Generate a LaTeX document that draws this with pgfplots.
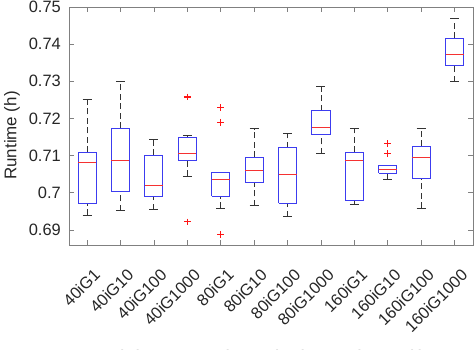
\documentclass[border=0pt]{standalone}
\usepackage{pgfplots}
\pgfplotsset{compat=1.18}
\usepackage{fontspec}
\setmainfont{Liberation Sans}
\definecolor{boxblue}{RGB}{60,60,240}
\definecolor{medred}{RGB}{245,50,50}
\definecolor{outred}{RGB}{255,20,20}
\definecolor{figteal}{RGB}{0,140,185}
\begin{document}
\begin{tikzpicture}
\useasboundingbox (-69bp,-105bp) rectangle (405bp,245bp);
\begin{axis}[
  at={(0,0)}, anchor=south west,
  scale only axis, width=404bp, height=238bp,
  xmin=-0.54, xmax=11.55, ymin=0.68596, ymax=0.75,
  xtick={0,...,11},
  xticklabels={40iG1,40iG10,40iG100,40iG1000,80iG1,80iG10,80iG100,80iG1000,160iG1,160iG10,160iG100,160iG1000},
  ytick={0.69,0.70,0.71,0.72,0.73,0.74,0.75},
  scaled y ticks=false,
  yticklabel={\pgfmathprintnumber[fixed,precision=2]{\tick}},
  /pgf/number format/assume math mode=true,
  tick align=inside, major tick length=5bp,
  axis line style={draw=black!50, line width=0.7bp},
  tick style={draw=black!50, line width=0.7bp},
  ticklabel style={font=\fontsize{16.5}{17}\selectfont, text=black!85},
  yticklabel style={anchor=east, inner sep=0pt, xshift=-8bp},
  xticklabel style={anchor=east, inner sep=0pt, xshift=10bp, yshift=-27bp, rotate=45},
  ylabel={Runtime (h)},
  ylabel style={font=\fontsize{17}{18}\selectfont, text=black!85, at={(axis description cs:-0.141,0.46)}, anchor=center, rotate=0},
  unbounded coords=jump,
  clip=false,
]
% dashed whiskers (lower whisker -> Q1, Q3 -> upper whisker)
\addplot[black!80, line width=0.9bp, dash pattern=on 6bp off 3.5bp] coordinates {
(0,0.6940)(0,0.6971)(0,nan)(0,0.7109)(0,0.7252)(0,nan)
(1,0.6952)(1,0.7004)(1,nan)(1,0.7174)(1,0.7301)(1,nan)
(2,0.6955)(2,0.6989)(2,nan)(2,0.7101)(2,0.7144)(2,nan)
(3,0.7044)(3,0.7088)(3,nan)(3,0.7149)(3,0.7154)(3,nan)
(4,0.6959)(4,0.6991)(4,nan)
(5,0.6965)(5,0.7027)(5,nan)(5,0.7096)(5,0.7173)(5,nan)
(6,0.6936)(6,0.6972)(6,nan)(6,0.7121)(6,0.7159)(6,nan)
(7,0.7105)(7,0.7156)(7,nan)(7,0.7221)(7,0.7286)(7,nan)
(8,0.6970)(8,0.6979)(8,nan)(8,0.7109)(8,0.7173)(8,nan)
(9,0.7036)(9,0.7052)(9,nan)
(10,0.6959)(10,0.7038)(10,nan)(10,0.7125)(10,0.7174)(10,nan)
(11,0.7299)(11,0.7342)(11,nan)(11,0.7416)(11,0.7470)
};
% whisker caps
\addplot[black!80, line width=0.9bp] coordinates {
(-0.135,0.6940)(0.135,0.6940)(0,nan)(-0.135,0.7252)(0.135,0.7252)(0,nan)
(0.865,0.6952)(1.135,0.6952)(0,nan)(0.865,0.7301)(1.135,0.7301)(0,nan)
(1.865,0.6955)(2.135,0.6955)(0,nan)(1.865,0.7144)(2.135,0.7144)(0,nan)
(2.865,0.7044)(3.135,0.7044)(0,nan)(2.865,0.7154)(3.135,0.7154)(0,nan)
(3.865,0.6959)(4.135,0.6959)(0,nan)(3.865,0.7055)(4.135,0.7055)(0,nan)
(4.865,0.6965)(5.135,0.6965)(0,nan)(4.865,0.7173)(5.135,0.7173)(0,nan)
(5.865,0.6936)(6.135,0.6936)(0,nan)(5.865,0.7159)(6.135,0.7159)(0,nan)
(6.865,0.7105)(7.135,0.7105)(0,nan)(6.865,0.7286)(7.135,0.7286)(0,nan)
(7.865,0.6970)(8.135,0.6970)(0,nan)(7.865,0.7173)(8.135,0.7173)(0,nan)
(8.865,0.7036)(9.135,0.7036)(0,nan)(8.865,0.7074)(9.135,0.7074)(0,nan)
(9.865,0.6959)(10.135,0.6959)(0,nan)(9.865,0.7174)(10.135,0.7174)(0,nan)
(10.865,0.7299)(11.135,0.7299)(0,nan)(10.865,0.7470)(11.135,0.7470)
};
% boxes (Q1 to Q3)
\addplot[boxblue, line width=0.9bp] coordinates {
(-0.27,0.6971)(0.27,0.6971)(0.27,0.7109)(-0.27,0.7109)(-0.27,0.6971)(0,nan)
(0.73,0.7004)(1.27,0.7004)(1.27,0.7174)(0.73,0.7174)(0.73,0.7004)(0,nan)
(1.73,0.6989)(2.27,0.6989)(2.27,0.7101)(1.73,0.7101)(1.73,0.6989)(0,nan)
(2.73,0.7088)(3.27,0.7088)(3.27,0.7149)(2.73,0.7149)(2.73,0.7088)(0,nan)
(3.73,0.6991)(4.27,0.6991)(4.27,0.7055)(3.73,0.7055)(3.73,0.6991)(0,nan)
(4.73,0.7027)(5.27,0.7027)(5.27,0.7096)(4.73,0.7096)(4.73,0.7027)(0,nan)
(5.73,0.6972)(6.27,0.6972)(6.27,0.7121)(5.73,0.7121)(5.73,0.6972)(0,nan)
(6.73,0.7156)(7.27,0.7156)(7.27,0.7221)(6.73,0.7221)(6.73,0.7156)(0,nan)
(7.73,0.6979)(8.27,0.6979)(8.27,0.7109)(7.73,0.7109)(7.73,0.6979)(0,nan)
(8.73,0.7052)(9.27,0.7052)(9.27,0.7074)(8.73,0.7074)(8.73,0.7052)(0,nan)
(9.73,0.7038)(10.27,0.7038)(10.27,0.7125)(9.73,0.7125)(9.73,0.7038)(0,nan)
(10.73,0.7342)(11.27,0.7342)(11.27,0.7416)(10.73,0.7416)(10.73,0.7342)
};
% medians
\addplot[medred, line width=1bp] coordinates {
(-0.27,0.7082)(0.27,0.7082)(0,nan)
(0.73,0.7086)(1.27,0.7086)(0,nan)
(1.73,0.7021)(2.27,0.7021)(0,nan)
(2.73,0.7105)(3.27,0.7105)(0,nan)
(3.73,0.7035)(4.27,0.7035)(0,nan)
(4.73,0.7061)(5.27,0.7061)(0,nan)
(5.73,0.7048)(6.27,0.7048)(0,nan)
(6.73,0.7175)(7.27,0.7175)(0,nan)
(7.73,0.7086)(8.27,0.7086)(0,nan)
(8.73,0.7063)(9.27,0.7063)(0,nan)
(9.73,0.7095)(10.27,0.7095)(0,nan)
(10.73,0.7372)(11.27,0.7372)
};
% outliers
\addplot[outred, only marks, mark=+, mark size=3.3bp, mark options={draw=outred, solid, line width=1.3bp}] coordinates {
(3,0.7258)(3,0.6922)
(4,0.7230)(4,0.7190)(4,0.6888)
(9,0.7132)(9,0.7106)
};
\end{axis}
\node[anchor=north west, inner sep=0pt, font=\bfseries\fontsize{14}{15}\selectfont] at (-69bp,-105bp)
  {\textcolor{figteal}{FIGURE 1.}\hspace{14bp}Sample last BEM runtime under the sample tested l};
\end{tikzpicture}
\end{document}
